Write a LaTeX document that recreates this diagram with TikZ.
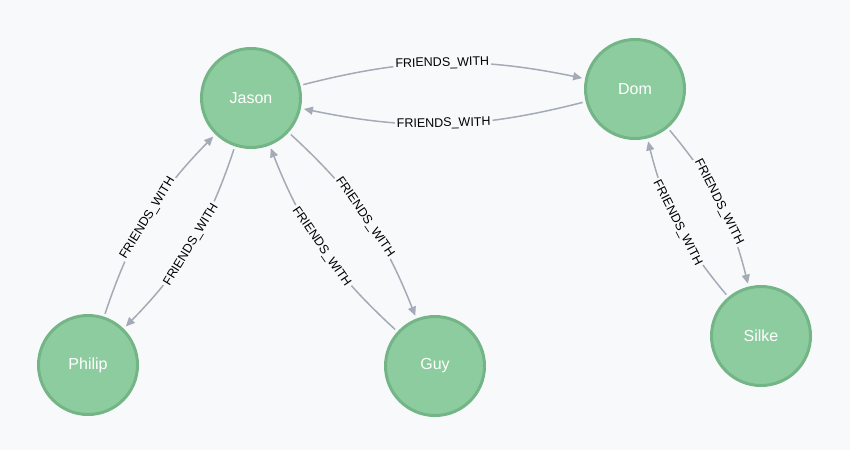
\documentclass[tikz,border=0pt]{standalone}
\usepackage{fontspec}
\setmainfont{Liberation Sans}
\usetikzlibrary{arrows.meta}
\definecolor{bg}{HTML}{F8F9FB}
\definecolor{nfill}{HTML}{8DCC9F}
\definecolor{nline}{HTML}{73B586}
\definecolor{eline}{HTML}{A5ABB6}
\begin{document}
\begin{tikzpicture}[x=1pt,y=1pt,
  person/.style={circle,minimum size=99pt,inner sep=0,fill=nfill,draw=nline,line width=3pt,text=white,font=\fontsize{16}{18}\selectfont},
  rel/.style={draw=eline,line width=1.5pt,-{Triangle[length=9pt,width=8pt]},bend left=13,shorten <=3pt,shorten >=3pt},
  lbl/.style={sloped,midway,fill=bg,inner sep=2pt,text=black,font=\fontsize{12.5}{14}\selectfont}]
\fill[bg] (0,0) rectangle (850,-450);
\useasboundingbox (0,0) rectangle (850,-450);
\node[person] (jason) at (251,-98) {Jason};
\node[person] (dom) at (635,-89) {Dom};
\node[person] (philip) at (88,-365) {Philip};
\node[person] (guy) at (435,-366) {Guy};
\node[person] (silke) at (761,-336) {Silke};
\draw[rel] (jason) to node[lbl]{FRIENDS\_WITH} (dom);
\draw[rel] (dom) to node[lbl]{FRIENDS\_WITH} (jason);
\draw[rel] (jason) to node[lbl]{FRIENDS\_WITH} (philip);
\draw[rel] (philip) to node[lbl]{FRIENDS\_WITH} (jason);
\draw[rel] (jason) to node[lbl]{FRIENDS\_WITH} (guy);
\draw[rel] (guy) to node[lbl]{FRIENDS\_WITH} (jason);
\draw[rel] (dom) to node[lbl]{FRIENDS\_WITH} (silke);
\draw[rel] (silke) to node[lbl]{FRIENDS\_WITH} (dom);
\end{tikzpicture}
\end{document}
